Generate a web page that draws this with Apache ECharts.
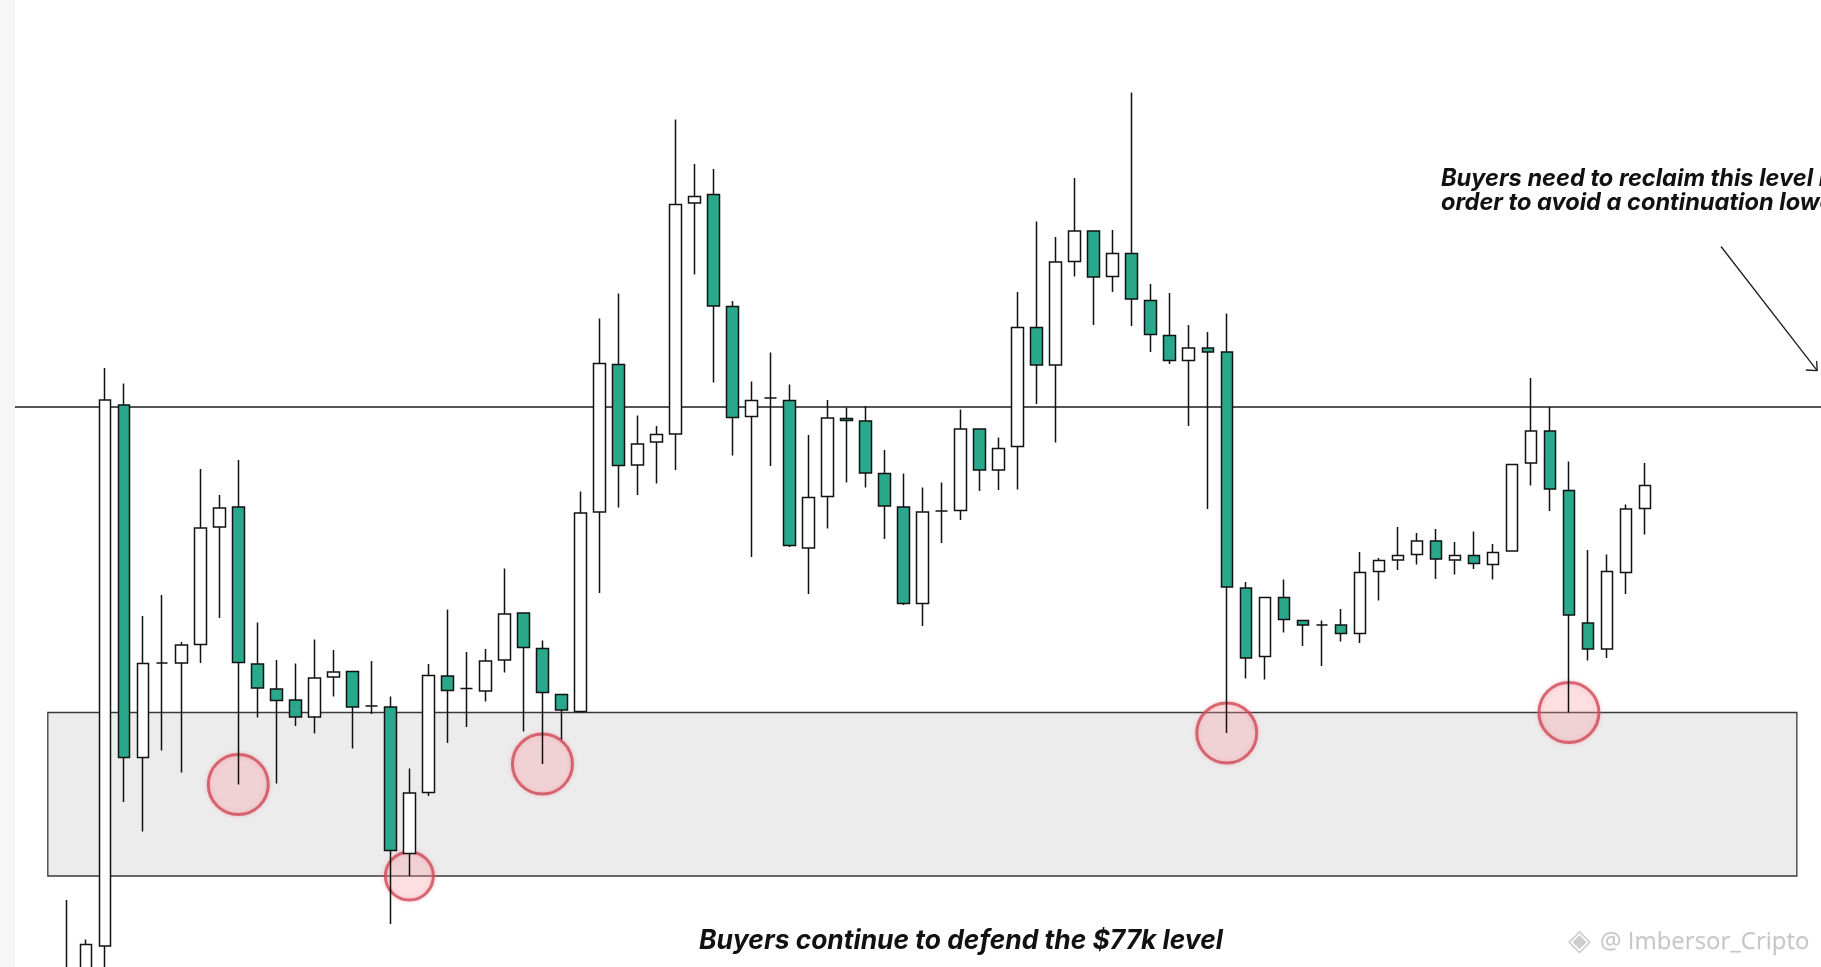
<!DOCTYPE html>
<html>
<head>
<meta charset="utf-8">
<script src="https://cdn.jsdelivr.net/npm/echarts@6/dist/echarts.min.js"></script>
<style>
  html, body { margin: 0; padding: 0; background: #ffffff; }
  #chart { width: 1821px; height: 967px; }
</style>
</head>
<body>
<div id="chart"></div>
<script>
// ---- data (price units, fictional scale) ----
const OPEN = [71600,71500,72330,83150,76100,77990,77990,78360,80710,81110,
  77970,77470,77250,76910,77710,77820,77130,77110,74180,75400,
  77730,77480,77430,78050,78990,78280,77360,77020,81010,83960,
  81950,82410,82570,87190,87360,85120,82920,83290,83240,80290,
  81320,82880,82830,81780,81110,79180,81030,81040,82670,81850,
  82320,84700,83950,86020,86630,85720,86180,85240,84540,84040,
  84290,84210,79490,78120,79300,78840,78750,78750,78580,79820,
  80050,80160,80430,80050,80140,79960,80230,81990,82630,81440,
  78790,78270,79800,81080];
const CLOSE = [71300,72360,83250,76100,77980,77990,78350,80690,81090,78000,
  77490,77240,76910,77690,77810,77110,77130,74240,75390,77740,
  77440,77480,78030,78970,78300,77400,77050,80990,83980,81940,
  82370,82560,87160,87320,85130,82900,83240,83290,80340,81300,
  82890,82840,81790,81130,79180,81010,81030,82670,81850,82280,
  84700,83950,86010,86630,85710,86180,85270,84560,84040,84290,
  84210,79510,78090,79300,78860,78750,78750,78580,79800,80040,
  80140,80430,80070,80140,79980,80200,81960,82630,81470,78950,
  78270,79820,81070,81540];
const LOW = [70900,71200,71500,75210,74620,76240,75800,77990,78890,75560,
  76900,75580,76730,76580,77320,76280,76970,72770,73730,75330,
  76390,76710,77220,77800,76620,75970,76460,77020,79390,81100,
  81350,81580,81850,85760,83600,82140,80110,81930,80310,79370,
  80680,81600,81500,80470,79150,78730,80390,80850,81430,81450,
  81460,83170,82400,85720,84750,85410,84730,84210,83970,82730,
  81070,76590,77680,77660,78600,78330,77930,78420,78390,79240,
  79850,79960,79670,79760,79870,79660,80230,81540,81030,77000,
  78040,78090,79370,80560];
const HIGH = [73250,72460,83890,83580,78930,79350,78410,81870,81350,82050,
  78800,78050,77980,78460,78250,77820,78030,77320,75880,77970,
  79060,78210,78270,79880,78990,78440,77360,81420,84880,85380,
  82940,82730,88860,87970,87870,85230,83620,84200,83560,82550,
  83250,83100,83130,82250,81780,81500,81600,83060,82670,82500,
  85410,86820,86510,87690,86630,86650,89400,85570,85390,84750,
  84610,84980,79610,79300,79660,78840,78840,79070,80210,80090,
  80710,80590,80670,80410,80620,80370,81960,83690,83110,82020,
  80250,80160,81160,81990];

const RESISTANCE = 83120;          // horizontal level buyers need to reclaim
const ZONE_TOP = 77000;            // $77k demand zone
const ZONE_BOTTOM = 73730;
const DEFENDED = [9, 18, 25, 61, 79]; // candles whose wicks tested the zone
const ARROW_FROM = [87.0, 86320];
const ARROW_TO = [92.06, 83836];

const BOTTOM_NOTE = 'Buyers continue to defend the $77k level';
const TOP_NOTE_1 = 'Buyers need to reclaim this level in';
const TOP_NOTE_2 = 'order to avoid a continuation lower';
const WATERMARK = '@ Imbersor_Cripto';

// ---- axis extent (index units / price units) ----
const X_MIN = -3.535, X_MAX = 92.26;
const Y_MIN = 71910, Y_MAX = 91250;

const candles = OPEN.map((o, i) => [i, o, CLOSE[i], LOW[i], HIGH[i]]);
const circles = DEFENDED.map(i => [i, LOW[i]]);

const chart = echarts.init(document.getElementById('chart'), null, { renderer: 'canvas' });
chart.setOption({
  animation: false,
  backgroundColor: '#ffffff',
  grid: { left: 0, right: 0, top: 0, bottom: 0, containLabel: false },
  xAxis: {
    type: 'value', min: X_MIN, max: X_MAX,
    show: false, splitLine: { show: false }
  },
  yAxis: {
    type: 'value', min: Y_MIN, max: Y_MAX,
    show: false, splitLine: { show: false }
  },
  series: [
    {
      type: 'line', data: [], silent: true,
      markArea: {
        silent: true, z: 0,
        data: [
          [{ coord: [X_MIN, Y_MAX], itemStyle: { color: '#f6f6f6', borderWidth: 0 } },
           { coord: [-2.75, Y_MIN] }],
          [{ coord: [-1.02, ZONE_TOP], itemStyle: { color: '#ececec', borderColor: '#3a3a3a', borderWidth: 1.3 } },
           { coord: [90.99, ZONE_BOTTOM] }]
        ]
      },
      markLine: {
        silent: true, z: 1, symbol: ['none', 'none'],
        label: { show: false },
        lineStyle: { color: '#1c1c1c', width: 1.6, type: 'solid' },
        emphasis: { disabled: true },
        data: [
          [{ coord: [-2.75, RESISTANCE] }, { coord: [X_MAX, RESISTANCE] }],
          [{ coord: ARROW_FROM, lineStyle: { width: 1.3 } }, { coord: ARROW_TO }],
          [{ coord: ARROW_TO, lineStyle: { width: 1.3 } }, { coord: [ARROW_TO[0] - 0.6, ARROW_TO[1] + 14] }],
          [{ coord: ARROW_TO, lineStyle: { width: 1.3 } }, { coord: [ARROW_TO[0] - 0.03, ARROW_TO[1] + 195] }]
        ]
      }
    },
    {
      type: 'scatter', z: 1.5, silent: true,
      data: circles,
      symbol: 'circle',
      symbolSize: (v, p) => (p.dataIndex === 1 ? 48 : 60),
      itemStyle: {
        color: 'rgba(255,160,170,0.28)',
        borderColor: '#cf4858',
        borderWidth: 3,
        shadowBlur: 4,
        shadowColor: 'rgba(240,120,135,0.5)'
      }
    },
    {
      type: 'candlestick', z: 2, silent: true,
      encode: { x: 0, y: [1, 2, 3, 4] },
      data: candles,
      barWidth: 12,
      itemStyle: {
        color: '#ffffff',
        color0: '#2aa88c',
        borderColor: '#111111',
        borderColor0: '#111111',
        borderColorDoji: '#111111',
        borderWidth: 1.5
      }
    }
  ],
  graphic: [
    {
      type: 'text', x: 699, y: 941, silent: true,
      style: { text: BOTTOM_NOTE, font: 'italic bold 26.4px Inter', fill: '#111111', verticalAlign: 'middle' }
    },
    {
      type: 'text', x: 1441, y: 179, silent: true,
      style: { text: TOP_NOTE_1, font: 'italic bold 23.6px Inter', fill: '#111111', verticalAlign: 'middle' }
    },
    {
      type: 'text', x: 1441, y: 203, silent: true,
      style: { text: TOP_NOTE_2, font: 'italic bold 23.6px Inter', fill: '#111111', verticalAlign: 'middle' }
    },
    {
      type: 'text', x: 1568, y: 942, silent: true,
      style: { text: '◈', font: '30px "DejaVu Sans"', fill: '#cdcdcd', verticalAlign: 'middle' }
    },
    {
      type: 'text', x: 1600, y: 942, silent: true,
      style: { text: WATERMARK, font: '24px "Open Sans"', fill: '#c6c6c6', verticalAlign: 'middle',
               textShadowColor: 'rgba(0,0,0,0.08)', textShadowBlur: 1, textShadowOffsetY: 1 }
    }
  ]
});
</script>
</body>
</html>
